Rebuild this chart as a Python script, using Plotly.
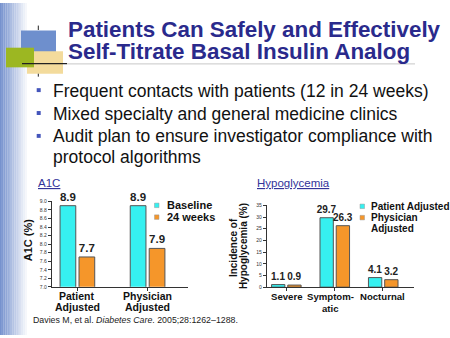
import plotly.graph_objects as go

# ---------------- data ----------------
a1c_groups = ["Patient Adjusted", "Physician Adjusted"]
a1c_labels = [["Patient", "Adjusted"], ["Physician", "Adjusted"]]
a1c_baseline = [8.9, 8.9]
a1c_24wk = [7.7, 7.9]
a1c_ticks = [7.0, 7.2, 7.4, 7.6, 7.8, 8.0, 8.2, 8.4, 8.6, 8.8, 9.0]

hypo_groups = ["Severe", "Symptomatic", "Nocturnal"]
hypo_labels = [["Severe"], ["Symptom-", "atic"], ["Nocturnal"]]
hypo_patient = [1.1, 29.7, 4.1]
hypo_physician = [0.9, 26.3, 3.2]
hypo_ticks = [0, 5, 10, 15, 20, 25, 30, 35]

title_lines = ["Patients Can Safely and Effectively", "Self-Titrate Basal Insulin Analog"]
bullets = [
    ["Frequent contacts with patients (12 in 24 weeks)"],
    ["Mixed specialty and general medicine clinics"],
    ["Audit plan to ensure investigator compliance with", "protocol algorithms"],
]

W, H = 450, 338
FONT = "Arial, Liberation Sans, sans-serif"
CYAN = "#36F0F0"
ORANGE = "#F5962A"
EDGE = "#555555"
NAVY = "#2A2A8C"


def px(x):
    return x / W


def py(y):
    return 1 - y / H


fig = go.Figure()

lbl_font = dict(family=FONT, size=11.5, color="#222", weight="bold")

# ---------------- left chart: A1C ----------------
fig.add_trace(go.Bar(
    x=a1c_groups, y=a1c_baseline, name="Baseline", xaxis="x", yaxis="y",
    marker=dict(color=CYAN, line=dict(color=EDGE, width=1)),
    width=0.224, offset=-0.246,
    text=[f"{v:.1f}" for v in a1c_baseline], textposition="outside", constraintext="none",
    textfont=lbl_font, cliponaxis=False, showlegend=False,
))
fig.add_trace(go.Bar(
    x=a1c_groups, y=a1c_24wk, name="24 weeks", xaxis="x", yaxis="y",
    marker=dict(color=ORANGE, line=dict(color=EDGE, width=1)),
    width=0.224, offset=0.024,
    text=[f"{v:.1f}" for v in a1c_24wk], textposition="outside", constraintext="none",
    textfont=lbl_font, cliponaxis=False, showlegend=False,
))

# ---------------- right chart: Hypoglycemia ----------------
lbl_font2 = dict(family=FONT, size=10, color="#222", weight="bold")
fig.add_trace(go.Bar(
    x=hypo_groups, y=hypo_patient, name="Patient Adjusted", xaxis="x2", yaxis="y2",
    marker=dict(color=CYAN, line=dict(color=EDGE, width=1)),
    width=0.275, offset=-0.3,
    text=[f"{v:.1f}" for v in hypo_patient], textposition="outside", constraintext="none",
    textfont=lbl_font2, cliponaxis=False, showlegend=False,
))
fig.add_trace(go.Bar(
    x=hypo_groups, y=hypo_physician, name="Physician Adjusted", xaxis="x2", yaxis="y2",
    marker=dict(color=ORANGE, line=dict(color=EDGE, width=1)),
    width=0.275, offset=0.035,
    text=[f"{v:.1f}" for v in hypo_physician], textposition="outside", constraintext="none",
    textfont=lbl_font2, cliponaxis=False, showlegend=False,
))

axis_common = dict(showline=True, linecolor="#333", linewidth=1, showgrid=False,
                   zeroline=False, ticks="outside", ticklen=3, tickcolor="#333")

shapes = []
# left gradient band
c0 = (118, 146, 206)
n = 16
for i in range(n):
    t = i / (n - 1)
    col = tuple(int(c0[k] + (255 - c0[k]) * t) for k in range(3))
    shapes.append(dict(type="rect", xref="paper", yref="paper",
                       x0=px(i * 1.8), x1=px(i * 1.8 + 1.9), y0=0, y1=1,
                       fillcolor="rgb(%d,%d,%d)" % col, line=dict(width=0), layer="below"))
# decorative squares
shapes.append(dict(type="rect", xref="paper", yref="paper", x0=px(21), x1=px(56), y0=py(57), y1=py(28),
                   fillcolor="#6E8FCD", line=dict(width=0), layer="below"))
shapes.append(dict(type="rect", xref="paper", yref="paper", x0=px(27), x1=px(63), y0=py(72), y1=py(49),
                   fillcolor="#F3DB9C", line=dict(width=0), layer="below"))
shapes.append(dict(type="rect", xref="paper", yref="paper", x0=px(6), x1=px(34), y0=py(65.5), y1=py(45.5),
                   fillcolor="#9CB722", line=dict(width=0), layer="below"))
# horizontal rule and ticks
shapes.append(dict(type="line", xref="paper", yref="paper", x0=px(22), x1=px(67), y0=py(61.7), y1=py(61.7),
                   line=dict(color="#222", width=1.2)))
shapes.append(dict(type="line", xref="paper", yref="paper", x0=px(67), x1=px(415), y0=py(62), y1=py(62),
                   line=dict(color="#C8C8C8", width=1)))
shapes.append(dict(type="line", xref="paper", yref="paper", x0=px(38.3), x1=px(38.3), y0=py(23), y1=py(27.5),
                   line=dict(color="#222", width=1)))
shapes.append(dict(type="line", xref="paper", yref="paper", x0=px(38.3), x1=px(38.3), y0=py(72), y1=py(75),
                   line=dict(color="#222", width=1)))
# bullet squares
for cy in [88.7, 112.0, 135.3]:
    shapes.append(dict(type="rect", xref="paper", yref="paper", x0=px(36.7), x1=px(40.7),
                       y0=py(cy + 2), y1=py(cy - 2), fillcolor="#4455BB", line=dict(width=0)))

ann = []
# title
for i, line in enumerate(title_lines):
    ann.append(dict(text="<b>%s</b>" % line, x=px(66), y=py(27 + i * 22), xref="paper", yref="paper",
                    xanchor="left", yanchor="middle", showarrow=False,
                    font=dict(family=FONT, size=22.4, color=NAVY)))
# bullet text
line_y = [[89.5], [112.5], [135.5, 156.5]]
for lines, ys in zip(bullets, line_y):
    for t, yy in zip(lines, ys):
        ann.append(dict(text=t, x=px(51), y=py(yy), xref="paper", yref="paper",
                        xanchor="left", yanchor="middle", showarrow=False,
                        font=dict(family=FONT, size=17.5, color="#111")))
# category labels (tight line spacing)
for cat, lines in zip(a1c_groups, a1c_labels):
    for j, t in enumerate(lines):
        ann.append(dict(text="<b>%s</b>" % t, x=cat, y=py(298.5 + 11.5 * j), xref="x", yref="paper",
                        xanchor="center", yanchor="middle", showarrow=False,
                        font=dict(family=FONT, size=10.5, color="#111")))
hypo_shift = [0, -4, 0]
for cat, lines, sh in zip(hypo_groups, hypo_labels, hypo_shift):
    for j, t in enumerate(lines):
        ann.append(dict(text="<b>%s</b>" % t, x=cat, y=py(298.5 + 12.5 * j), xref="x2", yref="paper",
                        xanchor="center", yanchor="middle", showarrow=False, xshift=sh,
                        font=dict(family=FONT, size=9.6, color="#111")))
# chart headings
ann.append(dict(text="<u>A1C</u>", x=px(36), y=py(183), xref="paper", yref="paper",
                xanchor="left", yanchor="middle", showarrow=False,
                font=dict(family=FONT, size=11.5, color="#333399")))
ann.append(dict(text="<u>Hypoglycemia</u>", x=px(255), y=py(183), xref="paper", yref="paper",
                xanchor="left", yanchor="middle", showarrow=False,
                font=dict(family=FONT, size=11.5, color="#333399")))
# y-axis titles
ann.append(dict(text="<b>A1C (%)</b>", x=px(27.5), y=py(241), xref="paper", yref="paper",
                xanchor="center", yanchor="middle", textangle=-90, showarrow=False,
                font=dict(family=FONT, size=11, color="#111")))
ann.append(dict(text="<b>Incidence of</b>", x=px(233.5), y=py(249), xref="paper", yref="paper",
                xanchor="center", yanchor="middle", textangle=-90, showarrow=False,
                font=dict(family=FONT, size=10, color="#111")))
ann.append(dict(text="<b>Hypoglycemia (%)</b>", x=px(243.5), y=py(248), xref="paper", yref="paper",
                xanchor="center", yanchor="middle", textangle=-90, showarrow=False,
                font=dict(family=FONT, size=10, color="#111")))
# legends
legL = [("Baseline", CYAN, 206), ("24 weeks", ORANGE, 218)]
for name, col, yy in legL:
    shapes.append(dict(type="rect", xref="paper", yref="paper", x0=px(154.5), x1=px(159),
                       y0=py(yy + 2.3), y1=py(yy - 2.3), fillcolor=col, line=dict(color="#999", width=0.5)))
    ann.append(dict(text="<b>%s</b>" % name, x=px(165), y=py(yy), xref="paper", yref="paper",
                    xanchor="left", yanchor="middle", showarrow=False,
                    font=dict(family=FONT, size=11, color="#111")))
legR = [("Patient Adjusted", CYAN, 207), ("Physician", ORANGE, 218.5)]
for name, col, yy in legR:
    shapes.append(dict(type="rect", xref="paper", yref="paper", x0=px(360), x1=px(364.5),
                       y0=py(yy + 2.3), y1=py(yy - 2.3), fillcolor=col, line=dict(color="#999", width=0.5)))
    ann.append(dict(text="<b>%s</b>" % name, x=px(368.5), y=py(yy), xref="paper", yref="paper",
                    xanchor="left", yanchor="middle", showarrow=False,
                    font=dict(family=FONT, size=10, color="#111")))
ann.append(dict(text="<b>Adjusted</b>", x=px(368.5), y=py(229.5), xref="paper", yref="paper",
                xanchor="left", yanchor="middle", showarrow=False,
                font=dict(family=FONT, size=10, color="#111")))
# citation
ann.append(dict(text="Davies M, et al. <i>Diabetes Care</i>. 2005;28:1262\u20131288.", x=px(30.5), y=py(323),
                xref="paper", yref="paper", xanchor="left", yanchor="middle", showarrow=False,
                font=dict(family=FONT, size=8.8, color="#222")))

fig.update_layout(
    width=W, height=H, margin=dict(l=0, r=0, t=0, b=0),
    paper_bgcolor="white", plot_bgcolor="rgba(0,0,0,0)",
    barmode="overlay", showlegend=False,
    font=dict(family=FONT, color="#111"),
    xaxis=dict(domain=[px(51.7), px(188)], range=[-0.365, 1.577], type="category",
               showticklabels=False, anchor="y", **axis_common),
    yaxis=dict(domain=[py(289), py(202)], range=[7.0, 9.0], tickvals=a1c_ticks, tickformat=".1f",
               tickfont=dict(family=FONT, size=5, color="#333"), anchor="x", **axis_common),
    xaxis2=dict(domain=[px(266.7), px(414)], range=[-0.40, 2.64], type="category",
                showticklabels=False, anchor="y2", **axis_common),
    yaxis2=dict(domain=[py(289.3), py(206)], range=[0, 35], tickvals=hypo_ticks,
                tickfont=dict(family=FONT, size=5, color="#333"), anchor="x2", **axis_common),
    shapes=shapes, annotations=ann,
)

fig.write_html("out.html")
